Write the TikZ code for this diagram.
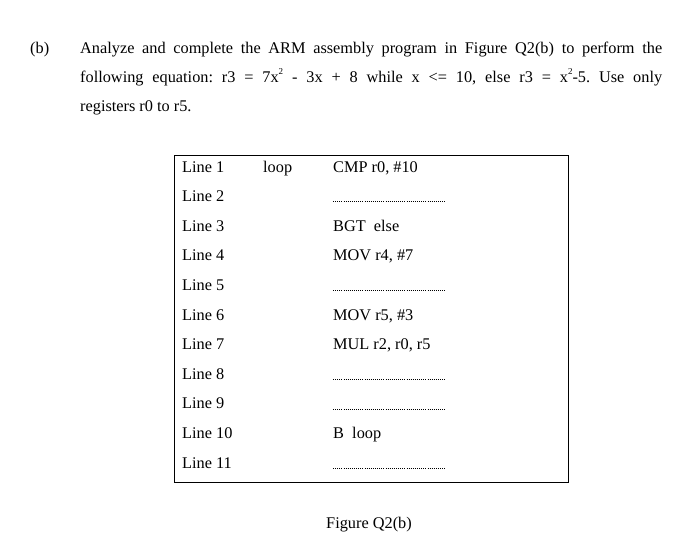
\documentclass[tikz,border=0pt]{standalone}
\usepackage{fontspec}
\setmainfont{Liberation Serif}
\begin{document}
\frenchspacing
\begin{tikzpicture}[x=1pt,y=-1pt,
  txt/.style={anchor=base west,inner sep=0pt,font=\fontsize{16.3}{19}\selectfont},
  blank/.style={line width=0.6pt,dash pattern=on 0.8pt off 1.3pt}]
\useasboundingbox (0,0) rectangle (696,541);
\newcommand{\sq}{\raisebox{0.45em}{\fontsize{9}{10}\selectfont 2}}
\node[txt] (b) at (30,53) {(b)};
\node[txt] (p1) at (80,53) {\makebox[582pt][s]{Analyze and complete the ARM assembly program in Figure Q2(b) to perform the}};
\node[txt] (p2) at (80,82) {\makebox[582pt][s]{following equation: r3 = 7x\sq{} - 3x + 8 while x <= 10, else r3 = x\sq-5. Use only}};
\node[txt] (p3) at (80,111) {registers r0 to r5.};
\draw[line width=0.8pt] (174,155) rectangle (568,482);
\foreach \i in {1,...,11}{
  \node[txt] (l\i) at (182,{172+(\i-1)*29.6}) {Line \i};
}
\node[txt] (loop) at (263,172) {loop};
\node[txt] (i1) at (333,172) {CMP r0, \#10};
\node[txt] (i3) at (333,231.2) {BGT\ \ else};
\node[txt] (i4) at (333,260.8) {MOV r4, \#7};
\node[txt] (i6) at (333,320) {MOV r5, \#3};
\node[txt] (i7) at (333,349.6) {MUL r2, r0, r5};
\node[txt] (i10) at (333,438.4) {B\ \ loop};
\foreach \i in {2,5,8,9,11}{
  \coordinate (s\i) at (333,{172+(\i-1)*29.6});
  \coordinate (e\i) at (445,{172+(\i-1)*29.6});
  \draw[blank] (s\i) -- (e\i);
}
\node[txt] (cap) at (326,528) {Figure Q2(b)};
\end{tikzpicture}
\end{document}
